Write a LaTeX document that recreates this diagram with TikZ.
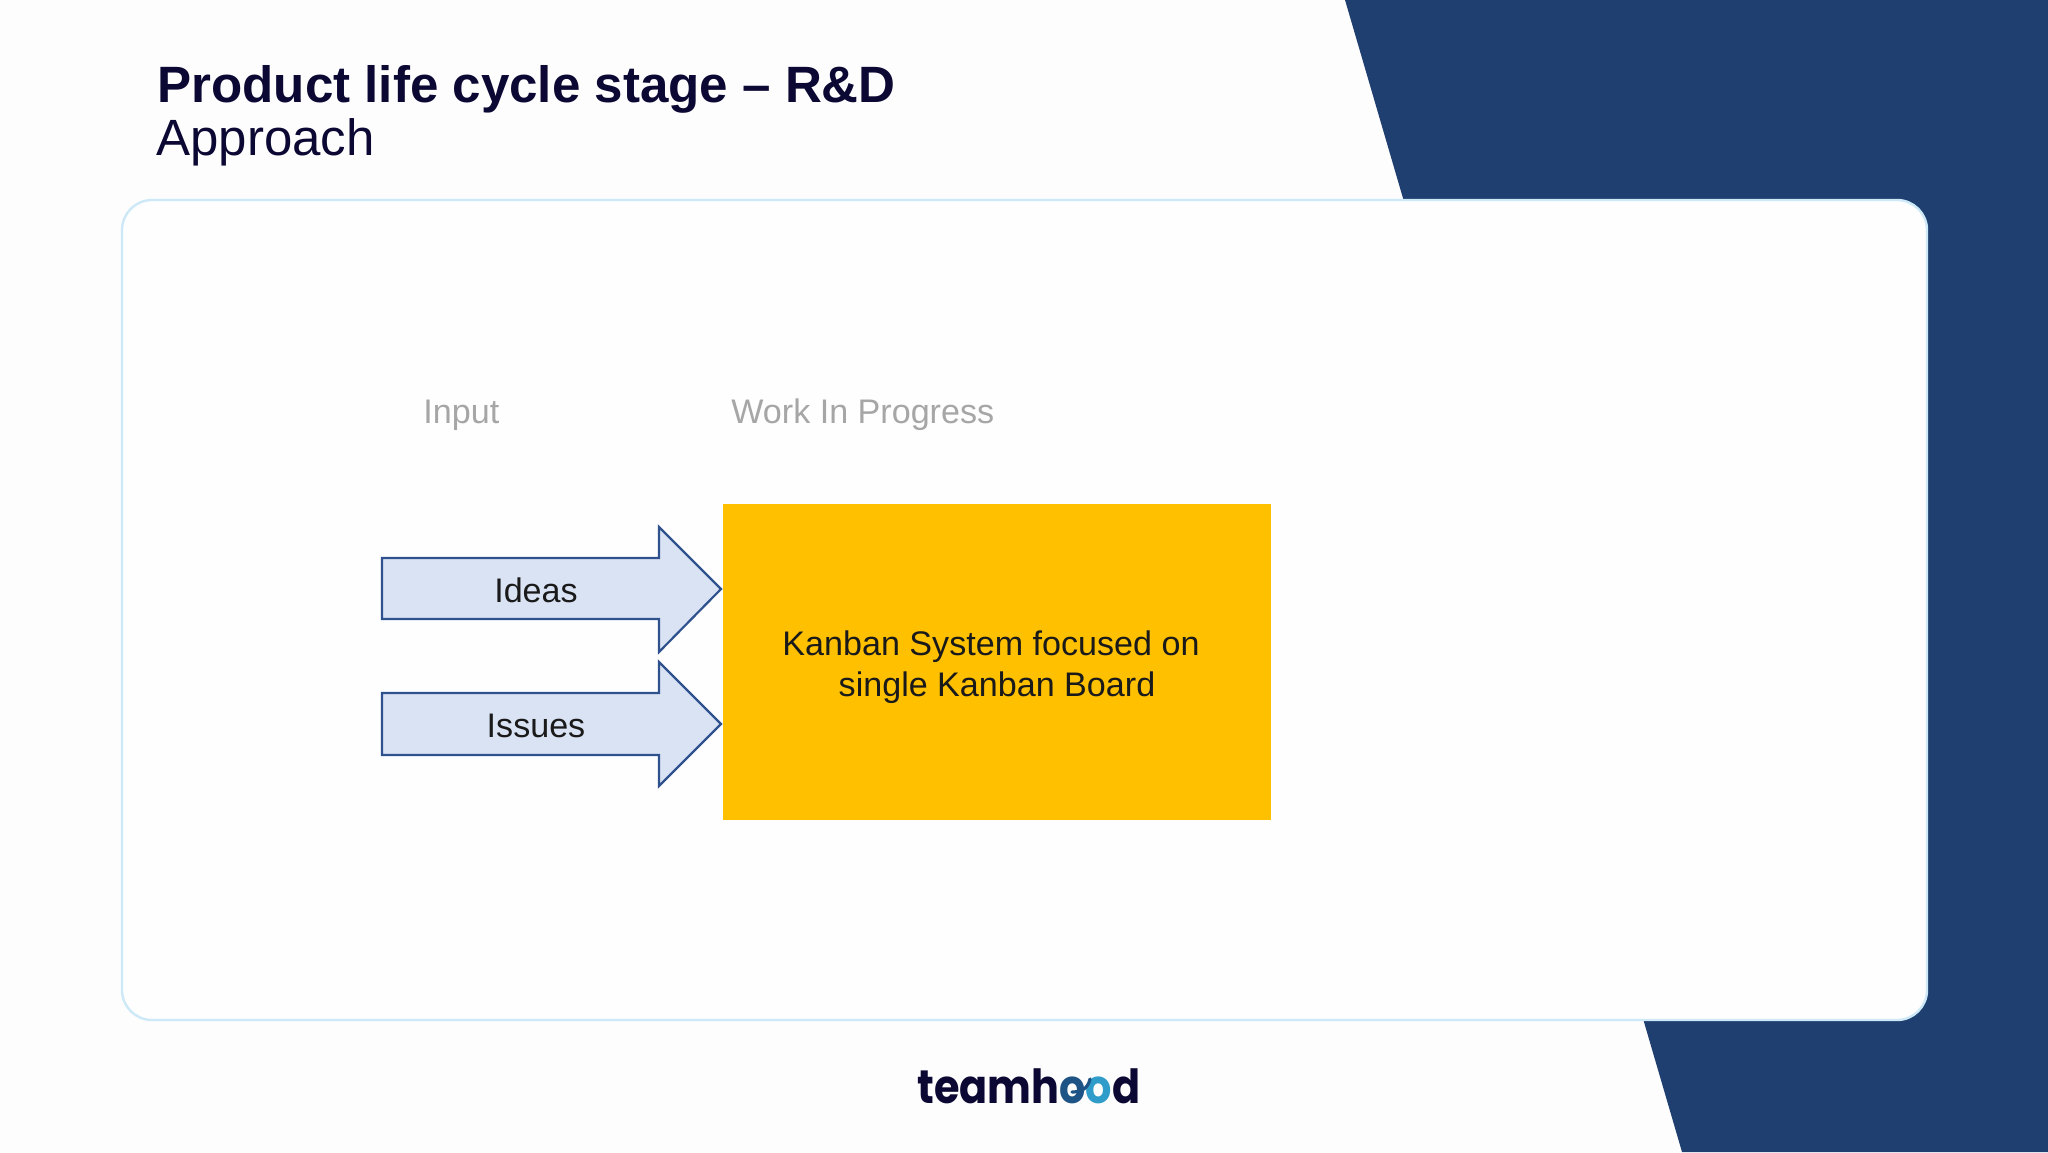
\documentclass[tikz,border=0pt]{standalone}
\usepackage{fontspec}
\setmainfont{Liberation Sans}
\newfontfamily\logofont{Poppins}
\definecolor{navy}{HTML}{1F3F70}
\definecolor{inkdark}{HTML}{0B0933}
\definecolor{cardedge}{HTML}{CDE9F7}
\definecolor{cardfill}{HTML}{FEFEFE}
\definecolor{pagefill}{HTML}{FEFDFE}
\definecolor{arrowfill}{HTML}{DAE3F3}
\definecolor{arrowedge}{HTML}{2F528F}
\definecolor{kanban}{HTML}{FFC000}
\definecolor{headgrey}{HTML}{A6A6A6}
\definecolor{bodytext}{HTML}{1A1A1A}
\definecolor{loopdark}{HTML}{1D5485}
\definecolor{looplight}{HTML}{2F9CC9}
\tikzset{
  titlebold/.style={anchor=base west,inner sep=0pt,text=inkdark,font=\fontsize{25.55}{30}\selectfont\bfseries},
  titlelight/.style={anchor=base west,inner sep=0pt,text=inkdark,font=\fontsize{25.5}{30}\selectfont},
  columnhead/.style={anchor=base west,inner sep=0pt,text=headgrey,font=\fontsize{17.05}{21}\selectfont},
  arrowlabel/.style={anchor=base,inner sep=0pt,text=bodytext,font=\fontsize{17.05}{21}\selectfont},
  inputarrow/.style={draw=arrowedge,fill=arrowfill,line width=1.1pt,line join=miter},
  kanbanbox/.style={fill=kanban,draw=none},
  card/.style={draw=cardedge,fill=cardfill,line width=1.2pt,rounded corners=15pt}
}
\begin{document}
\begin{tikzpicture}[x=0.5pt,y=-0.5pt]
\useasboundingbox (0,0) rectangle (2048,1152);
\fill[pagefill] (0,0) rectangle (2048,1152);
\fill[navy] (1345,0) -- (2048,0) -- (2048,1152) -- (1682,1152) -- cycle;
\draw[card] (122,200) rectangle (1927,1020);
% headings
\node[titlebold] (title) at (157,102) {Product life cycle stage – R\&D};
\node[titlelight] (subtitle) at (156,155) {Approach};
\node[columnhead] (inputhead) at (423,423) {Input};
\node[columnhead] (wiphead) at (731,423) {Work In Progress};
% arrows
\draw[inputarrow] (382,558) -- (659,558) -- (659,527) -- (721,589) -- (659,652) -- (659,619) -- (382,619) -- cycle;
\draw[inputarrow] (382,693) -- (659,693) -- (659,662) -- (721,724) -- (659,786) -- (659,755) -- (382,755) -- cycle;
\node[arrowlabel] (ideas) at (536,602) {Ideas};
\node[arrowlabel] (issues) at (536,737) {Issues};
% kanban box
\fill[kanbanbox] (723,504) rectangle (1271,820);
\node[arrowlabel] (kanbanone) at (991,655) {Kanban System focused on};
\node[arrowlabel] (kanbantwo) at (997,696) {single Kanban Board};
% logo
\node[anchor=base west,inner sep=0pt,text=inkdark,font=\logofont\fontsize{23.5}{28}\selectfont\bfseries] (logo) at (917,1103)
  {\scalebox{0.88}[1]{teamh\textcolor{loopdark}{o}\textcolor{looplight}{o}d}};
\draw[loopdark,line width=1.6pt,line cap=round] (1072,1092) .. controls (1082,1092) and (1088,1088) .. (1090,1079);
\end{tikzpicture}
\end{document}
